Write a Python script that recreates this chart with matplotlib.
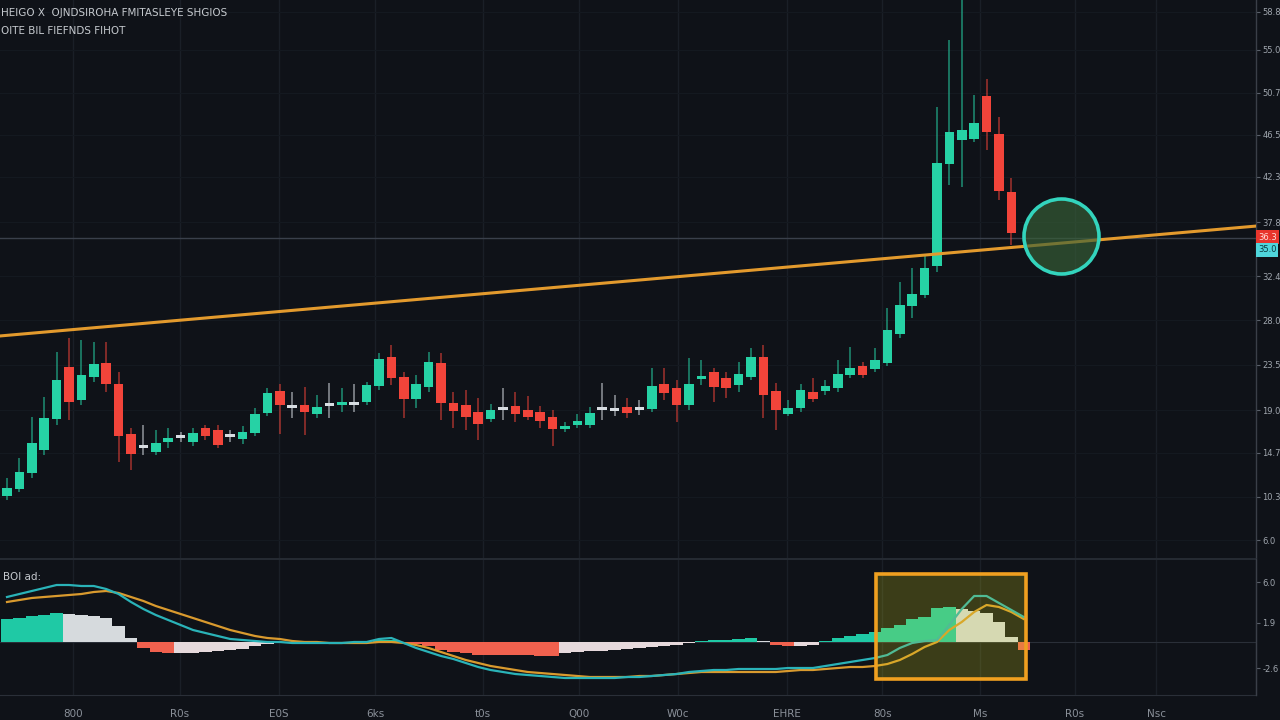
import matplotlib
matplotlib.use("Agg")
import matplotlib.pyplot as plt
import numpy as np
from matplotlib.patches import Rectangle
from matplotlib.lines import Line2D
from matplotlib.transforms import blended_transform_factory

# ---------------- data ----------------
opens = [10.4, 11.1, 12.7, 15.0, 18.1, 23.3, 20.0, 22.3, 23.7, 21.6,
         16.6, 15.4, 14.8, 15.8, 16.2, 15.8, 17.2, 17.0, 16.3, 16.1,
         16.7, 18.7, 20.9, 19.2, 19.5, 18.6, 19.4, 19.5, 19.7, 19.8,
         21.4, 24.3, 22.3, 20.1, 21.3, 23.7, 19.7, 19.5, 18.8, 18.1,
         19.1, 19.4, 19.0, 18.8, 18.3, 17.1, 17.5, 17.5, 19.0, 18.9,
         19.3, 19.2, 19.1, 21.6, 21.2, 19.5, 22.1, 22.8, 22.2, 21.5,
         22.3, 24.3, 20.9, 18.6, 19.2, 20.8, 20.9, 21.2, 22.5, 23.4,
         23.1, 23.7, 26.6, 29.4, 30.5, 33.4, 43.6, 46.0, 46.1, 50.4,
         46.6, 40.8]
highs = [12.2, 14.2, 18.3, 20.3, 24.8, 26.2, 26.0, 25.8, 25.8, 22.8,
         17.2, 17.5, 17.0, 17.2, 16.8, 17.2, 17.5, 17.5, 17.0, 17.4,
         19.2, 21.2, 21.6, 20.8, 21.3, 20.5, 21.7, 21.2, 21.6, 21.8,
         24.7, 25.5, 22.8, 22.5, 24.8, 24.7, 20.8, 21.0, 20.2, 19.6,
         21.2, 20.8, 20.4, 19.4, 19.0, 17.8, 18.6, 19.3, 21.7, 20.5,
         20.2, 20.0, 23.2, 23.2, 22.0, 24.2, 24.0, 23.2, 22.8, 23.8,
         25.2, 25.5, 21.7, 20.0, 21.6, 22.2, 22.0, 24.0, 25.3, 23.8,
         25.2, 29.2, 31.8, 33.2, 34.5, 49.3, 56.0, 60.5, 50.5, 52.1,
         48.3, 42.2]
lows = [10.0, 10.8, 12.2, 14.5, 17.5, 18.0, 19.5, 21.8, 20.8, 13.8,
        13.0, 14.5, 14.5, 15.2, 15.8, 15.4, 16.0, 15.2, 15.8, 15.6,
        16.4, 18.4, 16.6, 18.2, 16.5, 18.2, 18.2, 18.8, 18.8, 19.5,
        21.0, 21.5, 18.2, 19.2, 20.8, 18.0, 17.2, 17.0, 16.0, 17.8,
        18.0, 17.8, 18.0, 17.2, 15.4, 16.8, 17.2, 17.2, 18.0, 18.4,
        18.2, 18.5, 18.8, 20.0, 17.8, 19.0, 21.5, 19.8, 20.2, 20.8,
        22.0, 18.2, 17.0, 18.4, 18.8, 19.8, 20.5, 20.8, 22.2, 22.2,
        22.8, 23.4, 26.2, 28.2, 30.2, 32.8, 41.5, 41.3, 45.8, 45.0,
        40.0, 35.5]
closes = [11.2, 12.8, 15.7, 18.2, 22.0, 19.8, 22.5, 23.6, 21.6, 16.4,
          14.6, 15.2, 15.7, 16.2, 16.3, 16.7, 16.4, 15.5, 16.4, 16.8,
          18.6, 20.7, 19.5, 19.3, 18.8, 19.3, 19.5, 19.8, 19.5, 21.5,
          24.1, 22.2, 20.1, 21.6, 23.8, 19.7, 18.9, 18.3, 17.6, 19.0,
          19.0, 18.6, 18.3, 17.9, 17.1, 17.4, 17.9, 18.7, 19.1, 19.1,
          18.7, 19.0, 21.4, 20.7, 19.5, 21.6, 22.4, 21.3, 21.2, 22.6,
          24.3, 20.5, 19.0, 19.2, 21.0, 20.1, 21.4, 22.6, 23.2, 22.5,
          24.0, 27.0, 29.5, 30.6, 33.2, 43.7, 46.8, 47.0, 47.7, 46.8,
          40.9, 36.7]

trend_x = [-0.6, 100.8]
trend_y = [26.4, 37.4]
last_price_red = 36.3
last_price_cyan = 35.0
signal_circle = (85.0, 36.4)

price_ticks = [58.8, 55.0, 50.7, 46.5, 42.3, 37.8, 32.4, 28.0, 23.5, 19.0, 14.7, 10.3, 6.0]

macd_hist = [2.3, 2.4, 2.6, 2.7, 2.9, 2.8, 2.7, 2.6, 2.4, 1.6,
             0.4, -0.6, -1.0, -1.1, -1.1, -1.1, -1.0, -0.9, -0.8, -0.7,
             -0.4, -0.2, -0.1, -0.1, -0.1, -0.1, -0.2, -0.2, -0.1, 0.05,
             0.2, 0.2, -0.05, -0.2, -0.4, -0.8, -1.0, -1.1, -1.26, -1.28,
             -1.30, -1.32, -1.34, -1.36, -1.38, -1.1, -1.0, -0.9, -0.9, -0.8,
             -0.7, -0.6, -0.5, -0.4, -0.3, -0.1, 0.1, 0.2, 0.2, 0.3,
             0.4, 0.1, -0.3, -0.4, -0.4, -0.3, 0.1, 0.4, 0.6, 0.8,
             1.0, 1.4, 1.7, 2.3, 2.5, 3.4, 3.5, 3.3, 3.1, 2.9,
             2.0, 0.5, -0.8]
macd_line = [4.5, 4.8, 5.1, 5.4, 5.7, 5.7, 5.6, 5.6, 5.3, 4.8,
             4.0, 3.3, 2.7, 2.2, 1.7, 1.2, 0.9, 0.6, 0.3, 0.2,
             0.1, 0.0, 0.0, -0.1, -0.1, -0.1, -0.1, -0.1, 0.0, 0.0,
             0.3, 0.4, -0.1, -0.6, -1.0, -1.4, -1.7, -2.1, -2.5, -2.8,
             -3.0, -3.2, -3.3, -3.4, -3.5, -3.6, -3.6, -3.6, -3.6, -3.6,
             -3.5, -3.5, -3.4, -3.3, -3.2, -3.0, -2.9, -2.8, -2.8, -2.7,
             -2.7, -2.7, -2.7, -2.6, -2.6, -2.6, -2.4, -2.2, -2.0, -1.8,
             -1.6, -1.3, -0.6, -0.1, 0.1, 0.2, 1.7, 3.3, 4.6, 4.6,
             3.9, 3.2, 2.5]
signal_line = [4.0, 4.2, 4.4, 4.5, 4.6, 4.7, 4.8, 5.0, 5.1, 4.9,
               4.5, 4.1, 3.6, 3.2, 2.8, 2.4, 2.0, 1.6, 1.2, 0.9,
               0.6, 0.4, 0.3, 0.1, 0.0, 0.0, -0.1, -0.1, -0.1, -0.1,
               0.0, 0.0, -0.1, -0.3, -0.6, -1.0, -1.4, -1.8, -2.1, -2.4,
               -2.6, -2.8, -3.0, -3.1, -3.2, -3.3, -3.4, -3.5, -3.5, -3.5,
               -3.5, -3.4, -3.4, -3.3, -3.2, -3.1, -3.0, -3.0, -3.0, -3.0,
               -3.0, -3.0, -3.0, -2.9, -2.8, -2.8, -2.7, -2.6, -2.5, -2.5,
               -2.4, -2.2, -1.8, -1.2, -0.5, 0.0, 1.2, 2.0, 3.0, 3.7,
               3.5, 3.0, 2.3]
macd_ticks = [6.0, 1.9, -2.6]
highlight_x = (70.1, 82.2)
highlight_y = (-3.7, 6.8)

x_tick_pos = [5.3, 13.95, 21.9, 29.7, 38.4, 46.1, 54.1, 62.9, 70.6, 78.5, 86.1, 92.7]
x_tick_labels = ["800", "R0s", "E0S", "6ks", "t0s", "Q00", "W0c", "EHRE", "80s", "Ms", "R0s", "Nsc"]

title_line1 = "HEIGO X  OJNDSIROHA FMITASLEYE SHGIOS"
title_line2 = "OITE BIL FIEFNDS FIHOT"
macd_label = "BOI ad:"

# ---------------- style ----------------
BG = "#0f1218"
GREEN = "#26d2a5"
RED = "#f2443a"
DOJI = "#d8dde2"
GRID = "#1a1f27"
TXT = "#a0a6ae"

fig = plt.figure(figsize=(12.8, 7.2), dpi=100, facecolor=BG)
ax = fig.add_axes([0, 1 - 558 / 720, 1256 / 1280, 558 / 720], facecolor=BG)
ax2 = fig.add_axes([0, 25 / 720, 1256 / 1280, 135 / 720], facecolor=BG)

XL = (-0.565, 100.73)

# ---------- main candles ----------
o = np.array(opens); h = np.array(highs); l = np.array(lows); c = np.array(closes)
idx = np.arange(len(o))
body_col = []
for oo, cc in zip(o, c):
    if abs(cc - oo) < 0.25:
        body_col.append(DOJI)
    elif cc >= oo:
        body_col.append(GREEN)
    else:
        body_col.append(RED)
bottoms = np.minimum(o, c)
heights = np.maximum(np.abs(c - o), 0.35)

for xv in x_tick_pos:
    ax.axvline(xv, color=GRID, lw=1, zorder=0)
    ax2.axvline(xv, color=GRID, lw=1, zorder=0)
for yv in price_ticks:
    ax.axhline(yv, color="#141920", lw=0.8, zorder=0)

ax.vlines(idx, l, h, colors=body_col, lw=1.3, alpha=0.55, zorder=2)
ax.bar(idx, heights, width=0.78, bottom=bottoms, color=body_col, zorder=3, linewidth=0)

# price line and trend line
ax.axhline(last_price_red - 0.1, color="#3a404b", lw=1.0, zorder=1)
ax.plot(trend_x, trend_y, color="#e39a2d", lw=2.2, zorder=4, solid_capstyle="butt")

# circle marker
ax.scatter([signal_circle[0]], [signal_circle[1]], s=54 ** 2, facecolor=(0.22, 0.38, 0.22, 0.65),
           edgecolor="#33d4bd", linewidth=2.6, zorder=5)

ax.set_xlim(*XL)
ax.set_ylim(4.2, 60.0)
ax.yaxis.tick_right()
ax.set_yticks(price_ticks)
ax.set_yticklabels([f"{v:.1f}" for v in price_ticks])
ax.tick_params(axis="y", direction="out", length=3, width=0.8, color="#5a606a",
               labelcolor=TXT, labelsize=6, pad=1.5)
ax.set_xticks([])
for s in ["top", "left", "bottom"]:
    ax.spines[s].set_visible(False)
ax.spines["right"].set_color("#3a3f48")
ax.spines["right"].set_linewidth(1.0)

# last price tags
tr = blended_transform_factory(ax.transAxes, ax.transData)
ax.text(1.0015, last_price_red, f"{last_price_red:.1f}", transform=tr, fontsize=6, color="#ffe0dc",
        va="center", ha="left", clip_on=False, zorder=6,
        bbox=dict(boxstyle="square,pad=0.25", fc="#e8352c", ec="none"))
ax.text(1.0015, last_price_cyan, f"{last_price_cyan:.1f}", transform=tr, fontsize=6, color="#0c3a40",
        va="center", ha="left", clip_on=False, zorder=6,
        bbox=dict(boxstyle="square,pad=0.25", fc="#4fd6dc", ec="none"))

# ---------- MACD panel ----------
hist = np.array(macd_hist)
hidx = np.arange(len(hist))
hcol = []
for i, v in enumerate(hist):
    prev = hist[i - 1] if i > 0 else v
    if v >= 0:
        hcol.append("#1fc9a5" if v >= prev else "#d6dadd")
    else:
        hcol.append("#f0614e" if v < prev else "#e6d9dc")
ax2.axhline(0, color="#2a2f38", lw=0.8, zorder=1)
ax2.bar(hidx, hist, width=1.0, color=hcol, zorder=2, linewidth=0)
ax2.plot(np.arange(len(signal_line)), signal_line, color="#d99a2e", lw=1.6, zorder=3)
ax2.plot(np.arange(len(macd_line)), macd_line, color="#2ab3b8", lw=1.6, zorder=3)

rect = Rectangle((highlight_x[0], highlight_y[0]), highlight_x[1] - highlight_x[0],
                 highlight_y[1] - highlight_y[0], facecolor=(0.85, 0.85, 0.1, 0.22),
                 edgecolor="#f0a020", linewidth=2.6, zorder=4)
ax2.add_patch(rect)

ax2.set_xlim(*XL)
ax2.set_ylim(-5.3, 8.2)
ax2.yaxis.tick_right()
ax2.set_yticks(macd_ticks)
ax2.set_yticklabels([f"{v:.1f}" for v in macd_ticks])
ax2.tick_params(axis="y", direction="out", length=3, width=0.8, color="#5a606a",
                labelcolor=TXT, labelsize=6, pad=1.5)
ax2.set_xticks(x_tick_pos)
ax2.set_xticklabels(x_tick_labels)
ax2.tick_params(axis="x", length=0, pad=10, labelcolor="#8a9099", labelsize=7.5)
for s in ["top", "left"]:
    ax2.spines[s].set_visible(False)
ax2.spines["right"].set_color("#3a3f48")
ax2.spines["bottom"].set_color("#2a2f38")
ax2.text(0.002, 0.874, macd_label, transform=ax2.transAxes, fontsize=7.5, color="#c5c9ce",
         va="center", ha="left")

# separator
fig.add_artist(Line2D([0, 1256 / 1280], [1 - 559 / 720] * 2, color="#2a2f38", lw=1.2))
fig.add_artist(Line2D([1256 / 1280] * 2, [25 / 720, 1 - 559 / 720], color="#3a3f48", lw=1.0))

# title texts
fig.text(0.001, 1 - 13 / 720, title_line1, fontsize=7.5, color="#c5c9ce", va="center", ha="left")
fig.text(0.001, 1 - 31 / 720, title_line2, fontsize=7.5, color="#c5c9ce", va="center", ha="left")

fig.savefig("out.png", dpi=100, facecolor=BG)
